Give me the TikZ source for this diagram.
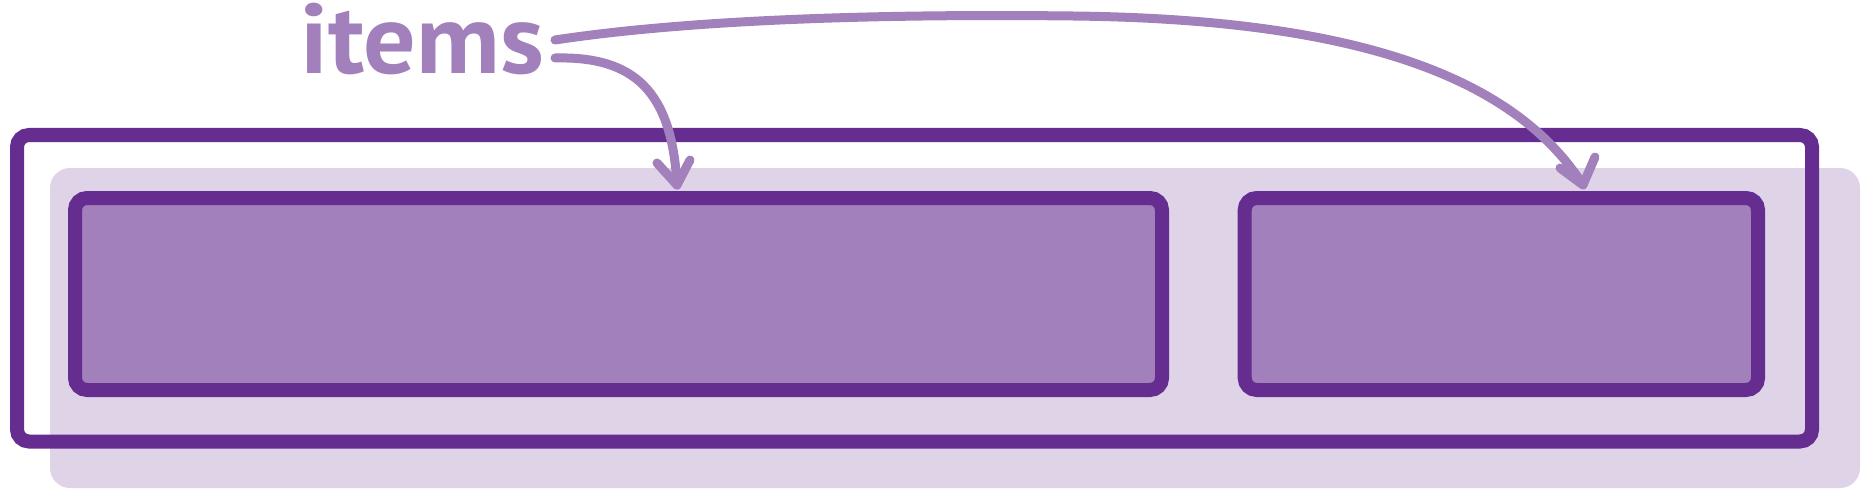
\documentclass[tikz,border=0pt]{standalone}
\usepackage{fontspec}
\newfontfamily\itemsfont{PT Sans}[FakeStretch=1.05]
\usetikzlibrary{calc}
\definecolor{darkpurple}{RGB}{101,45,144}
\definecolor{midpurple}{RGB}{161,128,188}
\definecolor{lightpurple}{RGB}{223,211,232}
\begin{document}
\begin{tikzpicture}[x=1pt,y=-1pt,
  itembox/.style={draw=darkpurple,fill=midpurple,line width=14pt,rounded corners=12pt,inner sep=0pt},
  framebox/.style={draw=darkpurple,line width=14pt,rounded corners=12pt,inner sep=0pt},
  backbox/.style={fill=lightpurple,rounded corners=20pt,inner sep=0pt},
  pointer/.style={draw=midpurple,line width=9pt,line cap=round,line join=round}]
\useasboundingbox (0,0) rectangle (1870,500);
% background container
\node[backbox,minimum width=1810pt,minimum height=320pt] (back) at (955,328) {};
% outer frame
\node[framebox,minimum width=1795pt,minimum height=306.5pt] (frame) at (914.5,288.25) {};
% items
\node[itembox,minimum width=1087pt,minimum height=192pt] (left) at (618.5,294) {};
\node[itembox,minimum width=513.3pt,minimum height=192pt] (right) at (1501.35,294) {};
% label
\node[anchor=base west,inner sep=0pt,text=midpurple,font=\itemsfont\bfseries\fontsize{99}{99}\selectfont] (lbl) at (300,74) {items};
% connector end points
\coordinate (s1) at (555,58);
\coordinate (s2) at (555,40);
\coordinate (t1) at (677,185);
\coordinate (t2) at (1583,185);
\coordinate (b1l) at (657,163);
\coordinate (b1r) at (690,160);
\coordinate (b2l) at (1560,168);
\coordinate (b2r) at (1595,157);
% connectors
\draw[pointer] (s1) .. controls (635,56) and (672,92) .. (t1);
\draw[pointer] (b1l) -- (t1) -- (b1r);
\draw[pointer] (s2) .. controls (700,18) and (900,14) .. (1073,16)
  .. controls (1340,19) and (1510,70) .. (t2);
\draw[pointer] (b2l) -- (t2) -- (b2r);
\end{tikzpicture}
\end{document}
